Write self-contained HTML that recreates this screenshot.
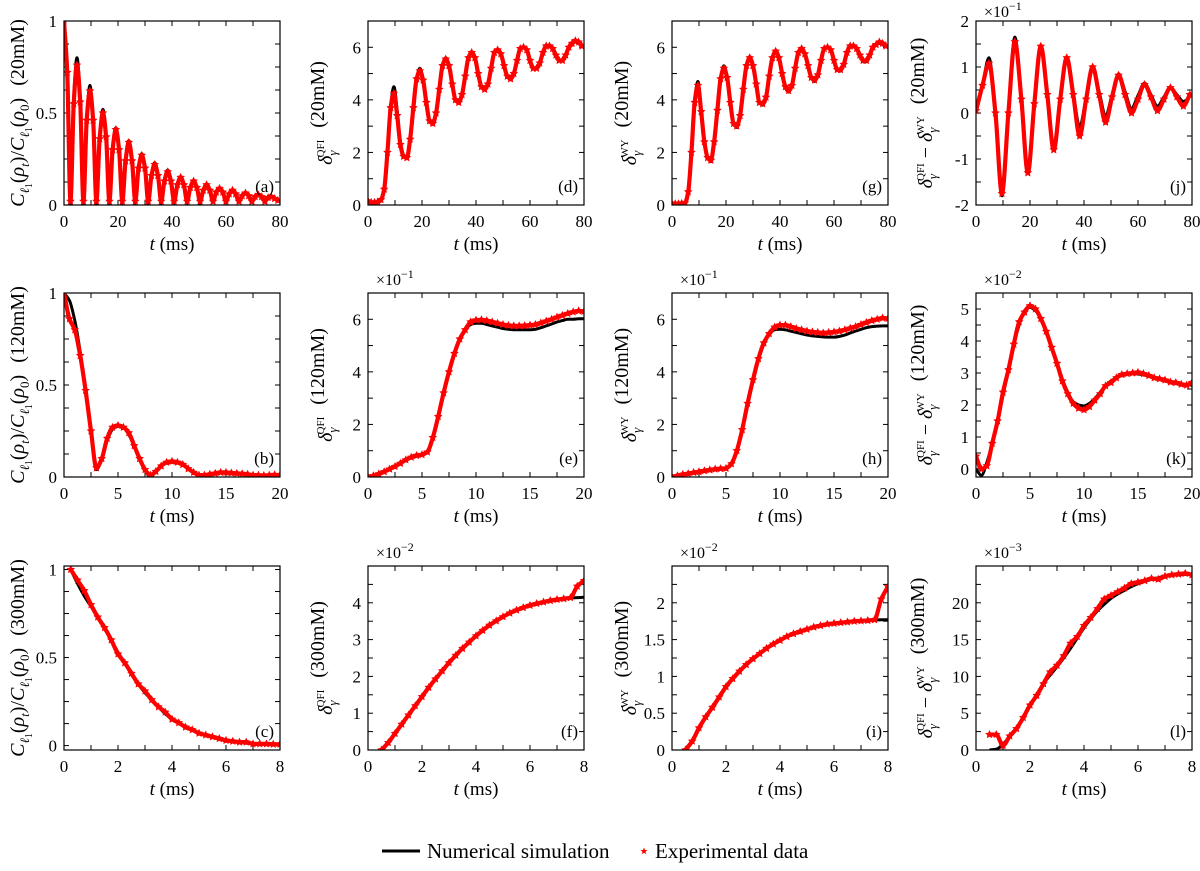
<!DOCTYPE html>
<html><head><meta charset="utf-8"><style>
html,body{margin:0;padding:0;background:#fff;}
svg{display:block;font-family:"Liberation Serif","DejaVu Serif",serif;}
</style></head><body>
<svg id="chart" width="1200" height="871" viewBox="0 0 1200 871" xmlns="http://www.w3.org/2000/svg">
<defs id="defs"></defs>
<g id="legend">
 <line x1="382" y1="851" x2="420" y2="851" stroke="#000" stroke-width="3"/>
 <text x="427" y="858" font-size="21">Numerical simulation</text>
 <path d="M644,847.5 L645,850 L647.5,850 L645.5,851.7 L646.3,854.3 L644,852.8 L641.7,854.3 L642.5,851.7 L640.5,850 L643,850 Z" fill="#f00"/>
 <text x="655" y="858" font-size="21">Experimental data</text>
</g>
</svg>
<script>
// ---- data ----
const simA=[1.0,0.72,0.0,0.58, 0.80,0.58,0.0,0.47, 0.65,0.47,0.0,0.37, 0.52,0.38,0.01,0.30, 0.42,0.30,0.01,0.25, 0.35,0.25,0.01,0.20, 0.28,0.20,0.01,0.17, 0.23,0.17,0.01,0.14, 0.19,0.14,0.01,0.11, 0.15,0.11,0.01,0.095, 0.13,0.095,0.01,0.08, 0.11,0.08,0.015,0.07, 0.09,0.068,0.015,0.06, 0.075,0.058,0.015,0.05, 0.06,0.048,0.015,0.042, 0.05,0.04,0.015,0.035, 0.04,0.032,0.02];
const expA=[1.0,0.72,0.02,0.55, 0.76,0.56,0.02,0.46, 0.62,0.46,0.02,0.36, 0.50,0.37,0.02,0.30, 0.41,0.30,0.02,0.24, 0.34,0.24,0.02,0.20, 0.27,0.20,0.02,0.16, 0.22,0.16,0.02,0.13, 0.18,0.13,0.02,0.11, 0.15,0.11,0.02,0.095, 0.13,0.095,0.02,0.08, 0.11,0.08,0.02,0.07, 0.09,0.07,0.02,0.06, 0.08,0.06,0.02,0.05, 0.065,0.05,0.02,0.045, 0.055,0.045,0.02,0.04, 0.045,0.035,0.025];
const simD=[0.1,0.12,0.08,0.1,0.15,0.6,2.0,3.8,4.5,3.6,2.4,1.9,1.8,2.5,3.7,4.8,5.2,4.8,3.9,3.2,3.1,3.5,4.4,5.3,5.6,5.3,4.6,4.0,3.9,4.2,4.9,5.6,5.8,5.6,5.0,4.5,4.4,4.6,5.2,5.8,5.9,5.75,5.3,4.9,4.8,5.0,5.5,5.95,6.0,5.9,5.5,5.2,5.2,5.4,5.8,6.05,6.05,5.95,5.7,5.5,5.5,5.7,6.0,6.15,6.2,6.15,6.05];
const expD=[0.15,0.1,0.1,0.12,0.2,0.6,2.0,3.7,4.25,3.4,2.3,1.85,1.8,2.5,3.7,4.8,5.1,4.75,3.9,3.2,3.1,3.5,4.4,5.3,5.55,5.3,4.6,4.0,3.9,4.2,4.9,5.6,5.8,5.6,5.0,4.5,4.4,4.6,5.2,5.8,5.9,5.75,5.3,4.9,4.8,5.0,5.5,5.95,6.0,5.9,5.5,5.2,5.2,5.4,5.8,6.05,6.05,5.95,5.7,5.5,5.5,5.7,6.0,6.15,6.25,6.2,6.05];
const simG=[0.05,0.05,0.05,0.06,0.05,0.5,2.0,4.0,4.7,3.6,2.4,1.8,1.65,2.4,3.6,4.8,5.3,4.9,3.9,3.1,2.95,3.4,4.4,5.3,5.65,5.3,4.6,3.9,3.8,4.1,4.9,5.6,5.85,5.6,5.0,4.45,4.3,4.55,5.2,5.8,5.95,5.75,5.3,4.85,4.7,4.95,5.5,5.95,6.0,5.9,5.5,5.15,5.1,5.35,5.8,6.05,6.05,5.95,5.7,5.45,5.45,5.65,5.95,6.1,6.15,6.1,6.0];
const expG=[0.05,0.05,0.05,0.06,0.08,0.5,2.0,3.9,4.55,3.55,2.4,1.8,1.7,2.4,3.6,4.8,5.2,4.85,3.9,3.1,3.0,3.4,4.4,5.3,5.6,5.3,4.6,3.9,3.85,4.1,4.9,5.6,5.85,5.6,5.0,4.5,4.35,4.55,5.2,5.8,5.95,5.75,5.3,4.85,4.75,4.95,5.5,5.95,6.0,5.9,5.5,5.15,5.15,5.35,5.8,6.05,6.05,5.95,5.7,5.5,5.5,5.7,6.0,6.1,6.2,6.15,6.05];
const simJ=[0,0.6,1.2,0,-1.8,0.0,1.65,0.3,-1.2,0.2,1.45,0.4,-0.7,0.3,1.2,0.45,-0.3,0.35,1.0,0.47,-0.05,0.4,0.85,0.47,0.1,0.38,0.65,0.4,0.15,0.35,0.55,0.4,0.25,0.35];
const expJ=[0.05,0.6,1.08,0,-1.75,0,1.55,0.3,-1.3,0.2,1.45,0.4,-0.8,0.3,1.2,0.4,-0.5,0.3,1.0,0.4,-0.2,0.35,0.82,0.4,0.0,0.3,0.62,0.35,0.05,0.3,0.55,0.35,0.15,0.4];
const simB=[1,0.96,0.85,0.68,0.47,0.25,0.04,0.1,0.2,0.26,0.28,0.27,0.23,0.17,0.1,0.04,0.0,0.03,0.06,0.075,0.08,0.078,0.065,0.045,0.025,0.01,0.005,0.012,0.02,0.024,0.025,0.024,0.02,0.016,0.012,0.01,0.008,0.008,0.009,0.01,0.01];
const expB=[1,0.86,0.8,0.66,0.47,0.25,0.05,0.1,0.21,0.27,0.28,0.27,0.24,0.17,0.1,0.04,0.01,0.03,0.06,0.08,0.085,0.08,0.068,0.045,0.025,0.01,0.01,0.015,0.02,0.025,0.025,0.022,0.02,0.018,0.015,0.01,0.01,0.008,0.01,0.012,0.01];
const simE=[0,0.05,0.12,0.2,0.3,0.4,0.52,0.65,0.75,0.82,0.85,0.95,1.5,2.3,3.2,4.0,4.7,5.25,5.6,5.8,5.85,5.85,5.8,5.75,5.7,5.65,5.62,5.6,5.6,5.6,5.6,5.62,5.68,5.75,5.82,5.9,5.95,6.0,6.0,6.02,6.02];
const expE=[0,0.05,0.12,0.2,0.3,0.4,0.52,0.65,0.75,0.82,0.85,0.95,1.5,2.3,3.2,4.0,4.7,5.25,5.6,5.9,5.97,5.98,5.95,5.9,5.85,5.8,5.77,5.75,5.75,5.76,5.78,5.8,5.86,5.93,6.0,6.08,6.15,6.22,6.28,6.32,6.3];
const simH=[0,0.05,0.1,0.13,0.17,0.2,0.24,0.27,0.3,0.32,0.33,0.5,1.0,1.8,2.8,3.7,4.5,5.1,5.45,5.6,5.62,5.6,5.55,5.5,5.45,5.4,5.37,5.35,5.33,5.32,5.32,5.35,5.4,5.48,5.55,5.62,5.68,5.72,5.74,5.75,5.75];
const expH=[0,0.05,0.1,0.13,0.17,0.2,0.24,0.27,0.3,0.32,0.33,0.5,1.0,1.8,2.8,3.7,4.5,5.1,5.45,5.7,5.78,5.78,5.72,5.65,5.6,5.55,5.52,5.5,5.48,5.5,5.52,5.55,5.6,5.66,5.72,5.8,5.88,5.95,6.0,6.05,6.03];
const simK=[0,-0.2,0.2,0.8,1.5,2.3,3.1,3.9,4.5,4.95,5.05,4.95,4.7,4.3,3.8,3.3,2.8,2.4,2.1,2.0,1.97,2.05,2.2,2.4,2.6,2.75,2.85,2.92,2.96,2.98,2.97,2.94,2.9,2.85,2.8,2.75,2.7,2.67,2.65,2.63,2.62];
const expK=[0.4,0.0,0.1,0.8,1.5,2.4,3.1,3.9,4.6,4.9,5.1,5.0,4.7,4.3,3.8,3.3,2.75,2.35,2.05,1.9,1.85,1.95,2.15,2.35,2.6,2.7,2.85,2.95,2.98,3.0,3.02,2.98,2.92,2.85,2.82,2.78,2.72,2.7,2.65,2.62,2.7];
const simC=[1.0,0.92,0.85,0.79,0.73,0.67,0.6,0.53,0.47,0.41,0.35,0.30,0.26,0.22,0.18,0.15,0.125,0.105,0.088,0.07,0.058,0.047,0.038,0.03,0.024,0.018,0.014,0.01,0.008,0.006,0.005,0.004];
const expC=[1.0,0.94,0.88,0.8,0.73,0.67,0.6,0.52,0.47,0.41,0.35,0.31,0.26,0.22,0.19,0.15,0.13,0.105,0.09,0.07,0.06,0.05,0.04,0.03,0.025,0.02,0.02,0.01,0.01,0.01,0.008,0.008];
const simF=[0.02,0.2,0.45,0.7,0.95,1.2,1.45,1.7,1.93,2.15,2.37,2.57,2.76,2.93,3.1,3.25,3.39,3.51,3.62,3.72,3.8,3.87,3.93,3.98,4.02,4.06,4.09,4.11,4.13,4.14,4.15];
const expF=[0.0,0.2,0.45,0.7,0.95,1.2,1.45,1.7,1.93,2.15,2.37,2.57,2.76,2.93,3.1,3.25,3.39,3.51,3.62,3.72,3.8,3.87,3.93,3.98,4.02,4.06,4.09,4.11,4.14,4.45,4.6];
const simI=[0.02,0.12,0.3,0.45,0.58,0.72,0.86,0.97,1.07,1.16,1.24,1.31,1.38,1.44,1.49,1.54,1.58,1.61,1.64,1.67,1.69,1.71,1.72,1.73,1.74,1.75,1.755,1.76,1.765,1.77,1.77];
const expI=[0.0,0.12,0.3,0.45,0.58,0.72,0.86,0.97,1.07,1.16,1.24,1.31,1.38,1.44,1.49,1.54,1.58,1.61,1.64,1.67,1.69,1.71,1.72,1.73,1.74,1.75,1.755,1.76,1.77,2.05,2.22];
const simL=[0,0.1,0.8,1.8,3.0,4.5,6.0,7.6,9.0,10.2,11.3,12.5,13.8,15.2,16.6,17.8,18.9,19.8,20.6,21.2,21.7,22.2,22.6,22.9,23.2,23.4,23.6,23.7,23.8,23.85,23.9];
const expL=[2.1,2.1,0.6,1.9,2.9,4.4,6.1,7.4,9.0,10.6,11.5,12.8,14.5,15.4,16.9,18.0,19.2,20.5,21.0,21.5,22.0,22.6,22.8,23.0,23.3,23.2,23.6,23.8,23.9,24.0,23.8];
const xTicksRow1=['0','20','40','60','80'];
const xTicksRow2=['0','5','10','15','20'];
const xTicksRow3=['0','2','4','6','8'];

// ---- layout ----
const LEFT=[64,368,672,976], TOP=[21,293,566], W=216, H=184;
const NS='http://www.w3.org/2000/svg';
const svg=document.getElementById('chart');
const defs=document.getElementById('defs');
function mk(tag,attrs,parent){const e=document.createElementNS(NS,tag);for(const k in attrs)e.setAttribute(k,attrs[k]);(parent||svg).appendChild(e);return e;}
const conc=['20mM','120mM','300mM'];
const yLab={
 c1:'<tspan font-style="italic">C</tspan><tspan font-size="13" dy="5" font-style="italic">ℓ</tspan><tspan font-size="10" dy="3">1</tspan><tspan dy="-8">(</tspan><tspan font-style="italic">ρ</tspan><tspan font-size="13" dy="5" font-style="italic">t</tspan><tspan dy="-5">)/</tspan><tspan font-style="italic">C</tspan><tspan font-size="13" dy="5" font-style="italic">ℓ</tspan><tspan font-size="10" dy="3">1</tspan><tspan dy="-8">(</tspan><tspan font-style="italic">ρ</tspan><tspan font-size="13" dy="5">0</tspan><tspan dy="-5">)</tspan>',
 qfi:'<tspan font-style="italic">δ</tspan><tspan font-size="13" dy="5" font-style="italic">γ</tspan><tspan font-size="11" dy="-13" dx="-7">QFI</tspan><tspan dy="8"></tspan>',
 wy:'<tspan font-style="italic">δ</tspan><tspan font-size="13" dy="5" font-style="italic">γ</tspan><tspan font-size="11" dy="-13" dx="-7">WY</tspan><tspan dy="8"></tspan>',
 diff:'<tspan font-style="italic">δ</tspan><tspan font-size="13" dy="5" font-style="italic">γ</tspan><tspan font-size="11" dy="-13" dx="-7">QFI</tspan><tspan dy="8"> − </tspan><tspan font-style="italic">δ</tspan><tspan font-size="13" dy="5" font-style="italic">γ</tspan><tspan font-size="11" dy="-13" dx="-7">WY</tspan><tspan dy="8"></tspan>'
};
const panels=[
 {id:'a',c:0,r:0,xr:[0,80],yr:[0,1],xt:[0,20,40,60,80],xl:xTicksRow1,xm:10,yt:[0,0.5,1],yl:['0','0.5','1'],ym:0.125,sim:simA,exp:expA,t0:0,dt:1.2,lab:'c1',e10:null},
 {id:'d',c:1,r:0,xr:[0,80],yr:[0,7],xt:[0,20,40,60,80],xl:xTicksRow1,xm:10,yt:[0,2,4,6],yl:['0','2','4','6'],ym:1,sim:simD,exp:expD,t0:0,dt:1.2,lab:'qfi',e10:null},
 {id:'g',c:2,r:0,xr:[0,80],yr:[0,7],xt:[0,20,40,60,80],xl:xTicksRow1,xm:10,yt:[0,2,4,6],yl:['0','2','4','6'],ym:1,sim:simG,exp:expG,t0:0,dt:1.2,lab:'wy',e10:null},
 {id:'j',c:3,r:0,xr:[0,80],yr:[-2,2],xt:[0,20,40,60,80],xl:xTicksRow1,xm:10,yt:[-2,-1,0,1,2],yl:['-2','-1','0','1','2'],ym:0.5,sim:simJ,exp:expJ,t0:0,dt:2.4,lab:'diff',e10:'1'},
 {id:'b',c:0,r:1,xr:[0,20],yr:[0,1],xt:[0,5,10,15,20],xl:xTicksRow2,xm:2.5,yt:[0,0.5,1],yl:['0','0.5','1'],ym:0.125,sim:simB,exp:expB,t0:0,dt:0.5,lab:'c1',e10:null},
 {id:'e',c:1,r:1,xr:[0,20],yr:[0,7],xt:[0,5,10,15,20],xl:xTicksRow2,xm:2.5,yt:[0,2,4,6],yl:['0','2','4','6'],ym:1,sim:simE,exp:expE,t0:0,dt:0.5,lab:'qfi',e10:'1'},
 {id:'h',c:2,r:1,xr:[0,20],yr:[0,7],xt:[0,5,10,15,20],xl:xTicksRow2,xm:2.5,yt:[0,2,4,6],yl:['0','2','4','6'],ym:1,sim:simH,exp:expH,t0:0,dt:0.5,lab:'wy',e10:'1'},
 {id:'k',c:3,r:1,xr:[0,20],yr:[-0.25,5.5],xt:[0,5,10,15,20],xl:xTicksRow2,xm:2.5,yt:[0,1,2,3,4,5],yl:['0','1','2','3','4','5'],ym:0.5,sim:simK,exp:expK,t0:0,dt:0.5,lab:'diff',e10:'2'},
 {id:'c',c:0,r:2,xr:[0,8],yr:[-0.025,1.02],xt:[0,2,4,6,8],xl:xTicksRow3,xm:1,yt:[0,0.5,1],yl:['0','0.5','1'],ym:0.125,sim:simC,exp:expC,t0:0.25,dt:0.25,lab:'c1',e10:null},
 {id:'f',c:1,r:2,xr:[0,8],yr:[0,5],xt:[0,2,4,6,8],xl:xTicksRow3,xm:1,yt:[0,1,2,3,4],yl:['0','1','2','3','4'],ym:0.5,sim:simF,exp:expF,t0:0.5,dt:0.25,lab:'qfi',e10:'2'},
 {id:'i',c:2,r:2,xr:[0,8],yr:[0,2.5],xt:[0,2,4,6,8],xl:xTicksRow3,xm:1,yt:[0,0.5,1,1.5,2],yl:['0','0.5','1','1.5','2'],ym:0.25,sim:simI,exp:expI,t0:0.5,dt:0.25,lab:'wy',e10:'2'},
 {id:'l',c:3,r:2,xr:[0,8],yr:[0,25],xt:[0,2,4,6,8],xl:xTicksRow3,xm:1,yt:[0,5,10,15,20],yl:['0','5','10','15','20'],ym:2.5,sim:simL,exp:expL,t0:0.5,dt:0.25,lab:'diff',e10:'3'}
];
// monotone cubic (Fritsch-Carlson) path - no overshoot
function smooth(p){const n=p.length;if(!n)return'';
 const dx=[],s=[];for(let i=0;i<n-1;i++){dx[i]=p[i+1][0]-p[i][0];s[i]=(p[i+1][1]-p[i][1])/dx[i];}
 const m=[];m[0]=s[0];m[n-1]=s[n-2];
 for(let i=1;i<n-1;i++){if(s[i-1]*s[i]<=0)m[i]=0;else{const a=s[i-1],b=s[i];m[i]=3*(dx[i-1]+dx[i])/((2*dx[i]+dx[i-1])/a+(dx[i]+2*dx[i-1])/b);}}
 let d='M'+p[0][0].toFixed(2)+','+p[0][1].toFixed(2);
 for(let i=0;i<n-1;i++){const h=dx[i]/3;
  d+=' C'+(p[i][0]+h).toFixed(2)+','+(p[i][1]+m[i]*h).toFixed(2)+' '+(p[i+1][0]-h).toFixed(2)+','+(p[i+1][1]-m[i+1]*h).toFixed(2)+' '+p[i+1][0].toFixed(2)+','+p[i+1][1].toFixed(2);}
 return d;}
function star(cx,cy,r){let d='';for(let k=0;k<10;k++){const a=-Math.PI/2+k*Math.PI/5,rr=k%2?r*0.5:r;d+=(k?'L':'M')+(cx+rr*Math.cos(a)).toFixed(2)+','+(cy+rr*Math.sin(a)).toFixed(2);}return d+'Z';}

panels.forEach(P=>{
 const L=LEFT[P.c],T=TOP[P.r];
 const sx=v=>L+(v-P.xr[0])/(P.xr[1]-P.xr[0])*W;
 const sy=v=>T+H-(v-P.yr[0])/(P.yr[1]-P.yr[0])*H;
 const g=mk('g',{});
 
 
 const cp=mk('clipPath',{id:'clip-'+P.id},defs);
 mk('rect',{x:L,y:T,width:W,height:H},cp);
 const tk=mk('g',{stroke:'#000','stroke-width':1},g);
 
 
 for(let v=P.xr[0];v<=P.xr[1]+1e-9;v+=P.xm){const x=sx(v);
  mk('line',{x1:x,y1:T+H,x2:x,y2:T+H-5},tk);mk('line',{x1:x,y1:T,x2:x,y2:T+5},tk);}
 const y0=Math.ceil(P.yr[0]/P.ym-1e-9)*P.ym;
 for(let v=y0;v<=P.yr[1]+1e-9;v+=P.ym){const y=sy(v);
  mk('line',{x1:L,y1:y,x2:L+5,y2:y},tk);mk('line',{x1:L+W,y1:y,x2:L+W-5,y2:y},tk);}
 P.xt.forEach((v,i)=>{const t=mk('text',{x:sx(v),y:T+H+22,'font-size':17,'text-anchor':'middle'},g);t.textContent=P.xl[i];
  
  });
 P.yt.forEach((v,i)=>{const t=mk('text',{x:L-7,y:sy(v)+6,'font-size':17,'text-anchor':'end'},g);t.textContent=P.yl[i];
  
  });
 const xt=mk('text',{x:L+W/2,y:T+H+45,'font-size':19,'text-anchor':'middle'},g);
 xt.innerHTML='<tspan font-style="italic">t</tspan> (ms)';
 
 
 const lx=P.c===0?24:(P.c===3?L-44:L-36), ly=T+H/2;
 const yt=mk('text',{x:0,y:0,'font-size':20,'text-anchor':'middle',transform:'translate('+lx+','+ly+') rotate(-90)'},g);
 yt.innerHTML=yLab[P.lab]+'<tspan dx="12">('+conc[P.r]+')</tspan>';
 
 
 if(P.e10){const e=mk('text',{x:L+8,y:P.r===0?17:T-8,'font-size':16},g);
  e.innerHTML='×10<tspan font-size="12" dy="-7">−'+P.e10+'</tspan>';
  
  }
 const simPts=P.sim.map((v,i)=>[sx(P.t0+i*P.dt),sy(v)]);
 const expPts=P.exp.map((v,i)=>[sx(P.t0+i*P.dt),sy(v)]);
 const sg=mk('g',{'clip-path':'url(#clip-'+P.id+')'},g);
 const sp=mk('path',{d:smooth(simPts),fill:'none',stroke:'#000','stroke-width':3},sg);
 
 
 const ep=mk('path',{d:smooth(expPts),fill:'none',stroke:'#f00','stroke-width':4.2,'stroke-linejoin':'round'},sg);
 
 
 let sd='';expPts.forEach(p=>{sd+=star(p[0],p[1],4.5);});
 const st=mk('path',{d:sd,fill:'#f00'},sg);
 
 
 const fr=mk('rect',{x:L,y:T,width:W,height:H,fill:'none',stroke:'#000','stroke-width':1.2},g);
 
 
 const pl=mk('text',{x:L+W-6,y:T+H-13,'font-size':17,'text-anchor':'end'},g);
 pl.textContent='('+P.id+')';
 
 
});
</script>
</body></html>
